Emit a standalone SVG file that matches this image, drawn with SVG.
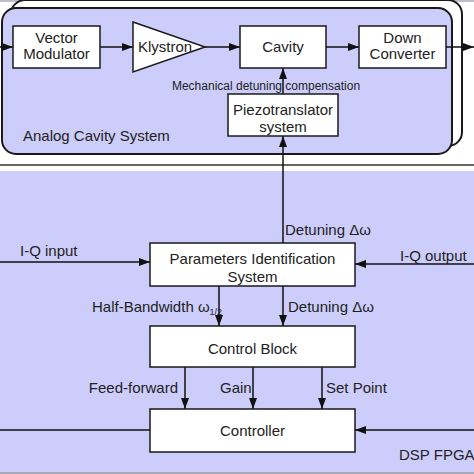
<svg xmlns="http://www.w3.org/2000/svg" width="474" height="474" viewBox="0 0 474 474">
<defs>
<marker id="ah" markerUnits="userSpaceOnUse" markerWidth="11" markerHeight="8" refX="11" refY="4" orient="auto">
<path d="M0,0 L11,4 L0,8 z" fill="#111"/>
</marker>
<style>
text{font-family:"Liberation Sans",Arial,sans-serif;font-size:15px;fill:#222}
.c{text-anchor:middle}
.e{text-anchor:end}
.s{font-size:12px}
.box{fill:#fff;stroke:#1a1a1a;stroke-width:1.5}
.w{fill:none;stroke:#111;stroke-width:1.5}
.a{marker-end:url(#ah)}
</style>
</defs>
<rect x="0" y="0" width="474" height="474" fill="#fff"/>
<rect x="0" y="0" width="474" height="2" fill="#bdbdc8"/>
<rect x="11" y="0" width="451" height="146" rx="14" fill="#fff" stroke="#1a1a1a" stroke-width="2"/>
<rect x="2" y="8" width="450" height="146" rx="14" fill="#cdcdfc" stroke="#1a1a1a" stroke-width="2"/>
<line x1="0" y1="165" x2="474" y2="165" stroke="#333" stroke-width="1.5"/>
<rect x="0" y="171" width="474" height="301" fill="#cdcdfc"/>
<rect x="0" y="472" width="474" height="2" fill="#a8a8b8"/>
<text x="23" y="141">Analog Cavity System</text>
<text x="399" y="460">DSP FPGA</text>

<g id="connectors">
<path class="w a" d="M0,47 H13"/>
<path class="w a" d="M100,47 H133"/>
<path class="w a" d="M205,47 H240"/>
<path class="w a" d="M326,47 H359"/>
<path class="w a" d="M446,47 H474"/>
<path class="w a" d="M283,94 V68"/>
<path class="w a" d="M283,243 V136"/>
<path class="w a" d="M0,262 H150"/>
<path class="w a" d="M474,264 H355"/>
<path class="w a" d="M219,286 V326"/>
<path class="w a" d="M283,286 V326"/>
<path class="w a" d="M185,367 V409"/>
<path class="w a" d="M253,367 V409"/>
<path class="w a" d="M322,367 V409"/>
<path class="w" d="M0,430 H150"/>
<path class="w a" d="M474,430 H355"/>
<text class="s c" x="266" y="90">Mechanical detuning compensation</text>
<text x="285" y="235">Detuning Δω</text>
<text x="20" y="256">I-Q input</text>
<text x="400" y="261">I-Q output</text>
<text x="92" y="312">Half-Bandwidth ω<tspan font-size="9" dy="3">1/2</tspan></text>
<text x="288" y="312">Detuning Δω</text>
<text class="e" x="178" y="393">Feed-forward</text>
<text x="220" y="393">Gain</text>
<text x="326" y="393">Set Point</text>
</g>

<g id="vector-modulator">
<rect class="box" x="13" y="26" width="87" height="42"/>
<text class="c" x="56.5" y="43">Vector</text>
<text class="c" x="56.5" y="59">Modulator</text>
</g>
<g id="klystron">
<polygon points="133,22 205,47 133,72" fill="#fff" stroke="#1a1a1a" stroke-width="1.5"/>
<text class="c" x="165" y="52">Klystron</text>
</g>
<g id="cavity">
<rect class="box" x="240" y="26" width="86" height="42"/>
<text class="c" x="283" y="52">Cavity</text>
</g>
<g id="down-converter">
<rect class="box" x="359" y="26" width="87" height="42"/>
<text class="c" x="402.5" y="43">Down</text>
<text class="c" x="402.5" y="59">Converter</text>
</g>
<g id="piezo">
<rect class="box" x="228" y="94" width="110" height="42"/>
<text class="c" x="283" y="115">Piezotranslator</text>
<text class="c" x="283" y="132">system</text>
</g>
<g id="param-id">
<rect class="box" x="150" y="243" width="205" height="43"/>
<text class="c" x="252.5" y="264">Parameters Identification</text>
<text class="c" x="252.5" y="282">System</text>
</g>
<g id="control-block">
<rect class="box" x="150" y="326" width="205" height="41"/>
<text class="c" x="252.5" y="354">Control Block</text>
</g>
<g id="controller">
<rect class="box" x="150" y="409" width="205" height="43"/>
<text class="c" x="252.5" y="436">Controller</text>
</g>
</svg>
